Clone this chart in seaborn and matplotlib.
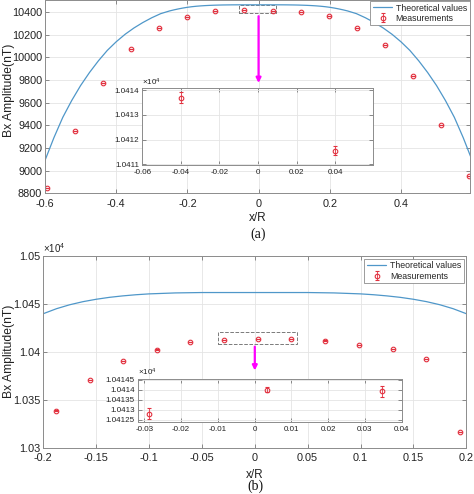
import matplotlib
matplotlib.use("Agg")
import matplotlib.pyplot as plt
import seaborn as sns
from matplotlib.patches import Rectangle

# theoretical Bx amplitude (nT) along x/R
theory_x = [-0.6, -0.575, -0.55, -0.525, -0.5, -0.475, -0.45, -0.425, -0.4, -0.375,
            -0.35, -0.325, -0.3, -0.275, -0.25, -0.2375, -0.225, -0.2125, -0.2, -0.1875,
            -0.175, -0.1625, -0.15, -0.1375, -0.125, -0.1125, -0.1, -0.075, -0.05, -0.025,
            0.0,
            0.025, 0.05, 0.075, 0.1, 0.1125, 0.125, 0.1375, 0.15, 0.1625, 0.175,
            0.1875, 0.2, 0.2125, 0.225, 0.2375, 0.25, 0.275, 0.3, 0.325, 0.35,
            0.375, 0.4, 0.425, 0.45, 0.475, 0.5, 0.525, 0.55, 0.575, 0.6]
theory_bx = [9090, 9290, 9470, 9618, 9750, 9865, 9968, 10060, 10136, 10202,
             10258, 10306, 10348, 10384, 10408, 10417.5, 10426, 10433.5, 10440, 10445.2,
             10449.3, 10452.5, 10455, 10457, 10458.5, 10459.7, 10460.6, 10461.6, 10462, 10462,
             10462,
             10462, 10462, 10461.6, 10460.6, 10459.7, 10458.5, 10457, 10455, 10452.5, 10449.3,
             10445.2, 10440, 10433.5, 10426, 10417.5, 10408, 10384, 10348, 10306, 10258,
             10202, 10136, 10060, 9968, 9865, 9750, 9618, 9470, 9290, 9090]

# panel (a) measurements
meas_a_x = [-0.594, -0.515, -0.437, -0.358, -0.279, -0.2, -0.121, -0.04,
            0.04, 0.119, 0.198, 0.277, 0.356, 0.434, 0.512, 0.59]
meas_a_bx = [8849, 9349, 9772, 10074, 10256, 10356, 10406, 10413.69,
             10411.55, 10397, 10362, 10259, 10104, 9833, 9404, 8955]
meas_a_err = [0.2, 0.2, 0.2, 0.2, 0.2, 0.2, 0.2, 0.23,
              0.19, 0.2, 0.2, 0.2, 0.2, 0.2, 0.2, 0.2]

# panel (b) measurements
meas_b_x = [-0.188, -0.156, -0.1246, -0.0929, -0.061, -0.0288, 0.0033,
            0.0347, 0.0668, 0.0986, 0.1304, 0.162, 0.194]
meas_b_bx = [10339.2, 10371.3, 10390.7, 10402.7, 10410.7, 10412.8, 10414.0,
             10413.92, 10412.0, 10407.6, 10403.4, 10392.8, 10317.0]
meas_b_err = [0.2, 0.2, 0.2, 0.2, 0.2, 0.29, 0.12,
              0.27, 0.2, 0.2, 0.2, 0.2, 0.2]

# ticks
a_xticks = [-0.6, -0.4, -0.2, 0, 0.2, 0.4]
a_yticks = [8800, 9000, 9200, 9400, 9600, 9800, 10000, 10200, 10400]
a_in_xticks = [-0.06, -0.04, -0.02, 0, 0.02, 0.04]
a_in_yticks = [10411, 10412, 10413, 10414]
a_in_ylabels = ['1.0411', '1.0412', '1.0413', '1.0414']
b_xticks = [-0.2, -0.15, -0.1, -0.05, 0, 0.05, 0.1, 0.15, 0.2]
b_yticks = [10300, 10350, 10400, 10450, 10500]
b_ylabels = ['1.03', '1.035', '1.04', '1.045', '1.05']
b_in_xticks = [-0.03, -0.02, -0.01, 0, 0.01, 0.02, 0.03, 0.04]
b_in_yticks = [10412.5, 10413, 10413.5, 10414, 10414.5]
b_in_ylabels = ['1.04125', '1.0413', '1.04135', '1.0414', '1.04145']

sns.set_style("ticks")
plt.rcParams['font.family'] = ['Liberation Sans', 'DejaVu Sans']
plt.rcParams['axes.unicode_minus'] = False
plt.rcParams['mathtext.fontset'] = 'custom'
plt.rcParams['mathtext.rm'] = 'Liberation Sans'
plt.rcParams['mathtext.it'] = 'Liberation Sans'

LINE = '#4f97c9'
RED = '#e2313f'
W, H = 474, 494


def box(l, t, r, b):
    return [l / W, 1 - b / H, (r - l) / W, (b - t) / H]


def style(ax, fs, xpad=2):
    ax.grid(True, color='#e4e4e4', lw=0.6)
    ax.set_axisbelow(True)
    ax.tick_params(direction='in', top=True, right=True, length=3, width=0.6,
                   color='#777777', labelsize=fs, labelcolor='#222222', pad=2)
    ax.tick_params(axis='x', pad=xpad)
    for s in ax.spines.values():
        s.set_visible(True)
        s.set_color('#8c8c8c')
        s.set_linewidth(0.7)


def draw(ax, mx, my, me, legend):
    sns.lineplot(x=theory_x, y=theory_bx, ax=ax, color=LINE, lw=0.9,
                 label='Theoretical values' if legend else None, legend=False)
    ax.errorbar(mx, my, yerr=me, fmt='o', ms=3.3, mfc='none', mec=RED, mew=0.8,
                ecolor=RED, elinewidth=0.6, capsize=1.5, capthick=0.6,
                label='Measurements' if legend else None)


def add_legend(ax, pad):
    leg = ax.legend(loc='upper right', fontsize=6.3, frameon=True, fancybox=False,
                    edgecolor='#8c8c8c', framealpha=1, borderaxespad=pad,
                    handlelength=2.2, borderpad=0.3, labelspacing=0.15,
                    handletextpad=0.4)
    leg.get_frame().set_linewidth(0.6)


fig = plt.figure(figsize=(4.74, 4.94), dpi=100)

# ---- panel (a)
ax1 = fig.add_axes(box(45, 0.5, 470, 193.3))
draw(ax1, meas_a_x, meas_a_bx, meas_a_err, True)
ax1.set_xlim(-0.6, 0.594)
ax1.set_ylim(8800, 10500)
ax1.set_xticks(a_xticks, ['{:g}'.format(v) for v in a_xticks])
ax1.set_yticks(a_yticks, [str(v) for v in a_yticks])
style(ax1, 7.8, xpad=4)
add_legend(ax1, 0.05)
ax1.add_patch(Rectangle((-0.054, 10386), 0.103, 73, fill=False, ls='--',
                        ec='#7a7a7a', lw=0.7))
ax1.annotate('', xy=(0, 9748), xytext=(0, 10386),
             arrowprops=dict(arrowstyle='-|>', color='#ff00ff', lw=1.6, mutation_scale=7))

ia = fig.add_axes(box(142.3, 88.3, 372.7, 165))
draw(ia, meas_a_x, meas_a_bx, meas_a_err, False)
ia.set_xlim(-0.06, 0.0595)
ia.set_ylim(10410.97, 10414.07)
ia.set_xticks(a_in_xticks, ['{:g}'.format(v) for v in a_in_xticks])
ia.set_yticks(a_in_yticks, a_in_ylabels)
style(ia, 5.8, xpad=3)
ia.text(0.0, 1.01, r'$\times10^{4}$', transform=ia.transAxes, fontsize=5.8,
        color='#222222', va='bottom', ha='left')

fig.text(257.7 / W, 1 - 218.3 / H, 'x/R', ha='center', va='center', fontsize=8.5, color='#222222')
fig.text(257.7 / W, 1 - 234 / H, '(a)', ha='center', va='center', fontsize=10,
         family='Liberation Serif', color='#111111')
fig.text(9 / W, 1 - 90 / H, 'Bx Amplitude(nT)', rotation=90, ha='center', va='center',
         fontsize=8.7, color='#222222')

# ---- panel (b)
ax2 = fig.add_axes(box(43.3, 256, 466.3, 448.3))
draw(ax2, meas_b_x, meas_b_bx, meas_b_err, True)
ax2.set_xlim(-0.2, 0.2)
ax2.set_ylim(10300, 10500)
ax2.set_xticks(b_xticks, ['{:g}'.format(v) for v in b_xticks])
ax2.set_yticks(b_yticks, b_ylabels)
style(ax2, 7.8, xpad=3.5)
ax2.text(0.0, 1.005, r'$\times10^{4}$', transform=ax2.transAxes, fontsize=7,
         color='#222222', va='bottom', ha='left')
add_legend(ax2, 0.3)
ax2.add_patch(Rectangle((-0.0345, 10408.6), 0.0747, 12.7, fill=False, ls='--',
                        ec='#7a7a7a', lw=0.7))
ax2.annotate('', xy=(0, 10378), xytext=(0, 10408.6),
             arrowprops=dict(arrowstyle='-|>', color='#ff00ff', lw=1.6, mutation_scale=7))

ib = fig.add_axes(box(137.7, 378.5, 401.7, 421.7))
draw(ib, meas_b_x, meas_b_bx, meas_b_err, False)
ib.set_xlim(-0.0318, 0.04)
ib.set_ylim(10412.4, 10414.55)
ib.set_xticks(b_in_xticks, ['{:g}'.format(v) for v in b_in_xticks])
ib.set_yticks(b_in_yticks, b_in_ylabels)
style(ib, 5.8, xpad=3)
ib.text(0.0, 1.02, r'$\times10^{4}$', transform=ib.transAxes, fontsize=5.8,
        color='#222222', va='bottom', ha='left')

fig.text(255 / W, 1 - 475 / H, 'x/R', ha='center', va='center', fontsize=8.5, color='#222222')
fig.text(255 / W, 1 - 486.5 / H, '(b)', ha='center', va='center', fontsize=10,
         family='Liberation Serif', color='#111111')
fig.text(9 / W, 1 - 351 / H, 'Bx Amplitude(nT)', rotation=90, ha='center', va='center',
         fontsize=8.7, color='#222222')

fig.savefig('out.png', dpi=100)
